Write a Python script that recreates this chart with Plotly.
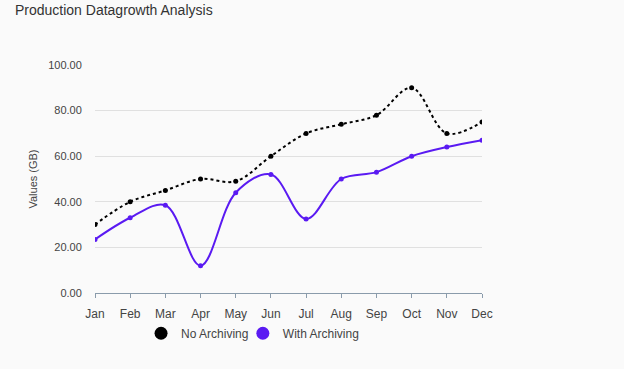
import plotly.graph_objects as go

months = ["Jan", "Feb", "Mar", "Apr", "May", "Jun", "Jul", "Aug", "Sep", "Oct", "Nov", "Dec"]
no_archiving = [30, 40, 45, 50, 49, 60, 70, 74, 78, 90, 70, 75]
with_archiving = [23.5, 33, 38.5, 12, 44, 52, 32.5, 50, 53, 60, 64, 67]
y_ticks = [0, 20, 40, 60, 80, 100]
series_names = ["No Archiving", "With Archiving"]
series_colors = ["#000000", "#5a1af2"]

fig = go.Figure()
fig.add_trace(go.Scatter(
    x=months, y=no_archiving, name=series_names[0], mode="lines+markers", showlegend=False,
    line=dict(color=series_colors[0], width=2, dash="dot", shape="spline", smoothing=1),
    marker=dict(color=series_colors[0], size=5),
))
fig.add_trace(go.Scatter(
    x=months, y=with_archiving, name=series_names[1], mode="lines+markers", showlegend=False,
    line=dict(color=series_colors[1], width=2, shape="spline", smoothing=1),
    marker=dict(color=series_colors[1], size=5),
))
# legend entries (circle symbols only), one legend per series
for nm, col, lg in zip(series_names, series_colors, ["legend", "legend2"]):
    fig.add_trace(go.Scatter(x=[None], y=[None], name=nm, mode="markers", legend=lg,
                             marker=dict(color=col, size=13), showlegend=True))

legend_common = dict(orientation="h", xanchor="left", y=-0.113, yanchor="top",
                     font=dict(size=12, color="#444444"), itemsizing="trace",
                     bgcolor="rgba(0,0,0,0)", itemwidth=30)

fig.update_layout(
    width=624, height=369,
    paper_bgcolor="#fafafa", plot_bgcolor="#fafafa",
    margin=dict(l=95, r=142, t=65, b=76),
    font=dict(family="Liberation Sans, Arial, sans-serif", size=12, color="#444444"),
    title=dict(text="Production Datagrowth Analysis", x=0.024, xanchor="left", y=0.985, yanchor="top",
               font=dict(size=14, color="#333333")),
    showlegend=True,
    legend=dict(x=0.119, **legend_common),
    legend2=dict(x=0.382, **legend_common),
    xaxis=dict(type="category", range=[0, 11], showgrid=False, showline=True, linecolor="#8a9bab",
               linewidth=1, ticks="outside", ticklen=4, tickcolor="#8a9bab", zeroline=False,
               ticklabelstandoff=6, tickfont=dict(size=12, color="#444444")),
    yaxis=dict(range=[0, 100], tickvals=y_ticks, tickformat=".2f", showgrid=True, gridcolor="#e0e0e0",
               zeroline=False, showline=False, ticks="outside", ticklen=10, tickcolor="rgba(0,0,0,0)",
               tickfont=dict(size=11, color="#444444"),
               title=dict(text="Values (GB)", font=dict(size=11, color="#444444"), standoff=8)),
)

fig.write_html("out.html", config={"displayModeBar": False},
               post_script="document.body.style.margin='0';document.body.style.background='#fafafa';")
